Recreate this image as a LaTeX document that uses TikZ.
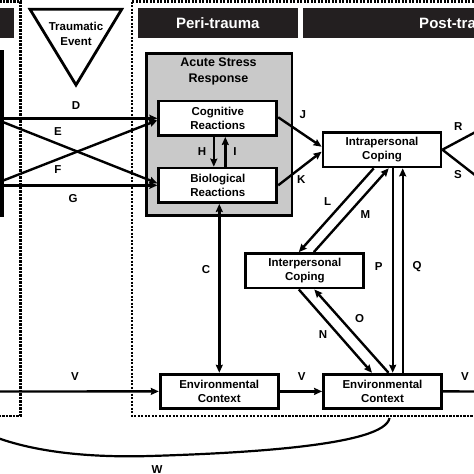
\documentclass[tikz,border=0pt]{standalone}
\usepackage{fontspec}
\setmainfont{Liberation Sans}
\usetikzlibrary{arrows.meta,calc}
\definecolor{hdr}{HTML}{231F20}
\definecolor{asr}{HTML}{C9C9C9}
\tikzset{
  box/.style={draw=black, line width=2.8pt, fill=white, minimum width=118pt, minimum height=34.5pt, inner sep=1pt, align=center, font=\fontsize{11.5}{13.6}\selectfont\bfseries},
  lab/.style={font=\fontsize{11.5}{13}\selectfont\bfseries, inner sep=0pt},
  arr/.style={line width=2.4pt, -{Stealth[length=8pt,width=7pt,inset=1pt]}},
  darr/.style={line width=2.4pt, {Stealth[length=8pt,width=7pt,inset=1pt]}-{Stealth[length=8pt,width=7pt,inset=1pt]}},
  ln/.style={line width=2.4pt},
  dotline/.style={line width=2.2pt, dash pattern=on 2.2pt off 1.3pt},
  hdrbar/.style={fill=hdr, draw=none},
}
\begin{document}
\begin{tikzpicture}[x=1pt,y=-1pt]
\useasboundingbox (0,0) rectangle (474,474);
\clip (0,0) rectangle (474,474);
% dotted phase frames
\draw[dotline] (-10,1.5) rectangle (20.5,416);
\draw[dotline] (132.3,1.5) rectangle (620,416);
% header bars
\fill[hdrbar] (-5,8.3) rectangle (14.3,37.7);
\fill[hdrbar] (137.7,8.3) rectangle (298,37.7);
\fill[hdrbar] (302.7,8.3) rectangle (623,37.7);
\node[text=white, font=\fontsize{15}{17}\selectfont\bfseries] (peri) at (217.8,23) {Peri-trauma};
\node[text=white, font=\fontsize{15}{17}\selectfont\bfseries] (post) at (463,23) {Post-trauma};
% traumatic event triangle
\draw[line width=2.8pt, line join=miter] (30,9.3) -- (121.7,9.3) -- (76,85) -- cycle;
\node[align=center, font=\fontsize{11.5}{15}\selectfont\bfseries] (trauma) at (76,34) {Traumatic\\Event};
% left pre-trauma bar
\draw[line width=4.5pt] (1.5,50) -- (1.5,217);
\coordinate (lD) at (2,118.3);
\coordinate (lE) at (2,121.7);
\coordinate (lF) at (2,181);
\coordinate (lG) at (2,185.3);
\coordinate (lV) at (-2,391.5);
\coordinate (rV) at (480,391.5);
\coordinate (rR) at (480,129.6);
\coordinate (rS) at (480,179);
% acute stress response
\node[draw=black, line width=2.8pt, fill=asr, minimum width=145.5pt, minimum height=162pt] (asr) at (219.2,134.2) {};
\node[align=center, font=\fontsize{12.5}{15.5}\selectfont\bfseries] (asrt) at (218.5,71.5) {Acute Stress\\Response};
\node[box] (cog) at (217.8,118.3) {Cognitive\\Reactions};
\node[box] (bio) at (217.8,185.3) {Biological\\Reactions};
% other boxes
\node[box] (intra) at (382,149.7) {Intrapersonal\\Coping};
\node[box] (inter) at (304.8,270.8) {Interpersonal\\Coping};
\node[box] (env1) at (219.2,391.4) {Environmental\\Context};
\node[box] (env2) at (382.5,391.4) {Environmental\\Context};
% D E F G
\draw[arr] (lD) -- (cog.west |- lD);
\draw[arr] (lG) -- (bio.west |- lG);
\draw[arr] (lE) -- ([yshift=2pt]bio.west);
\draw[arr] (lF) -- ([yshift=-2pt]cog.west);
% H I
\draw[arr] ([xshift=-4pt]cog.south) -- ([xshift=-4pt]bio.north);
\draw[arr] ([xshift=7.5pt]bio.north) -- ([xshift=7.5pt]cog.south);
% C
\draw[darr] ([xshift=1.5pt]bio.south) -- ([xshift=1.5pt]bio.south |- env1.north);
% J K
\draw[arr] ([yshift=1pt]cog.east) -- ([yshift=3pt]intra.west);
\draw[arr] (bio.east) -- ([yshift=-2pt]intra.west);
% L M
\draw[arr] ([xshift=-8.3pt]intra.south) -- ([xshift=-6pt]inter.north);
\draw[arr] ([xshift=9pt]inter.north) -- ([xshift=6.7pt]intra.south);
% P Q
\draw[arr] ([xshift=10.7pt]intra.south) -- ([xshift=10.2pt]env2.north);
\draw[arr] ([xshift=20.2pt]env2.north) -- ([xshift=20.7pt]intra.south);
% N O
\draw[arr] ([xshift=-6pt]inter.south) -- ([xshift=-10.5pt]env2.north);
\draw[arr] ([xshift=6pt]env2.north) -- ([xshift=9.5pt]inter.south);
% R S
\draw[ln] (intra.east) -- (rR);
\draw[ln] (intra.east) -- (rS);
% V
\draw[arr] (lV) -- (env1.west);
\draw[arr] (env1.east) -- (env2.west);
\draw[ln] (env2.east) -- (rV);
% W
\coordinate (wstart) at (389.5,418);
\coordinate (wend) at (-5,437);
\draw[ln, line width=2.2pt] (wstart) .. controls (385,445) and (250,453) .. (150,456) .. controls (80,458) and (30,450) .. (wend);
% labels
\node[lab] (tD) at (76,106) {D};
\node[lab] (tE) at (58,131.7) {E};
\node[lab] (tF) at (58,169.3) {F};
\node[lab] (tG) at (73,198.3) {G};
\node[lab] (tH) at (202,151.7) {H};
\node[lab] (tI) at (235,151.7) {I};
\node[lab] (tJ) at (302.7,115) {J};
\node[lab] (tK) at (301.3,180) {K};
\node[lab] (tC) at (206,269.3) {C};
\node[lab] (tL) at (327.7,201.7) {L};
\node[lab] (tM) at (365.3,215) {M};
\node[lab] (tP) at (378.7,266.7) {P};
\node[lab] (tQ) at (417,266.7) {Q};
\node[lab] (tN) at (323,334.3) {N};
\node[lab] (tO) at (359.7,319) {O};
\node[lab] (tR) at (458.3,126.7) {R};
\node[lab] (tS) at (458,175) {S};
\node[lab] (tV1) at (75,377) {V};
\node[lab] (tV2) at (301.7,377) {V};
\node[lab] (tV3) at (465,377) {V};
\node[lab] (tW) at (157,470) {W};
\end{tikzpicture}
\end{document}
